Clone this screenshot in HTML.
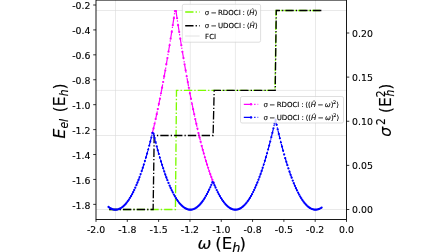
<!DOCTYPE html>
<html lang="en"><head><meta charset="utf-8"><title>Energy and variance vs omega</title>
<style>html,body{margin:0;padding:0;background:#fff;overflow:hidden}svg{display:block}</style></head>
<body>
<svg width="448" height="252" viewBox="0 0 448 252">
<rect width="448" height="252" fill="#fff"/>
<defs><clipPath id="ax"><rect x="96.0" y="0.1" width="250.5" height="219.4"/></clipPath></defs>
<g stroke="#dadada" stroke-width="0.6" fill="none">
<path d="M96.0,209.5 H346.5"/>
<path d="M96.0,135.5 H346.5"/>
<path d="M96.0,90.4 H346.5"/>
<path d="M96.0,10.5 H346.5"/>
<path d="M115.5,0.1 V219.5"/>
<path d="M190.3,0.1 V219.5"/>
<path d="M235.4,0.1 V219.5"/>
<path d="M315.5,0.1 V219.5"/>
</g>
<g fill="none" stroke-width="1.35" stroke-dasharray="8.32 2.08 1.30 2.08" clip-path="url(#ax)">
<path stroke="#7cfc00" d="M109.03,209.50 L110.10,209.50 L111.17,209.50 L112.24,209.50 L113.31,209.50 L114.38,209.50 L115.45,209.50 L116.52,209.50 L117.59,209.50 L118.66,209.50 L119.73,209.50 L120.81,209.50 L121.88,209.50 L122.95,209.50 L124.02,209.50 L125.09,209.50 L126.16,209.50 L127.23,209.50 L128.30,209.50 L129.37,209.50 L130.44,209.50 L131.51,209.50 L132.59,209.50 L133.66,209.50 L134.73,209.50 L135.80,209.50 L136.87,209.50 L137.94,209.50 L139.01,209.50 L140.08,209.50 L141.15,209.50 L142.22,209.50 L143.29,209.50 L144.37,209.50 L145.44,209.50 L146.51,209.50 L147.58,209.50 L148.65,209.50 L149.72,209.50 L150.79,209.50 L151.86,209.50 L152.93,209.50 L154.00,209.50 L155.07,209.50 L156.15,209.50 L157.22,209.50 L158.29,209.50 L159.36,209.50 L160.43,209.50 L161.50,209.50 L162.57,209.50 L163.64,209.50 L164.71,209.50 L165.78,209.50 L166.85,209.50 L167.93,209.50 L169.00,209.50 L170.07,209.50 L171.14,209.50 L172.21,209.50 L173.28,209.50 L174.35,209.50 L175.42,209.50 L176.49,90.40 L177.56,90.40 L178.63,90.40 L179.71,90.40 L180.78,90.40 L181.85,90.40 L182.92,90.40 L183.99,90.40 L185.06,90.40 L186.13,90.40 L187.20,90.40 L188.27,90.40 L189.34,90.40 L190.41,90.40 L191.49,90.40 L192.56,90.40 L193.63,90.40 L194.70,90.40 L195.77,90.40 L196.84,90.40 L197.91,90.40 L198.98,90.40 L200.05,90.40 L201.12,90.40 L202.19,90.40 L203.27,90.40 L204.34,90.40 L205.41,90.40 L206.48,90.40 L207.55,90.40 L208.62,90.40 L209.69,90.40 L210.76,90.40 L211.83,90.40 L212.90,90.40 L213.98,90.40 L215.05,90.40 L216.12,90.40 L217.19,90.40 L218.26,90.40 L219.33,90.40 L220.40,90.40 L221.47,90.40 L222.54,90.40 L223.61,90.40 L224.68,90.40 L225.76,90.40 L226.83,90.40 L227.90,90.40 L228.97,90.40 L230.04,90.40 L231.11,90.40 L232.18,90.40 L233.25,90.40 L234.32,90.40 L235.39,90.40 L236.46,90.40 L237.54,90.40 L238.61,90.40 L239.68,90.40 L240.75,90.40 L241.82,90.40 L242.89,90.40 L243.96,90.40 L245.03,90.40 L246.10,90.40 L247.17,90.40 L248.24,90.40 L249.32,90.40 L250.39,90.40 L251.46,90.40 L252.53,90.40 L253.60,90.40 L254.67,90.40 L255.74,90.40 L256.81,90.40 L257.88,90.40 L258.95,90.40 L260.02,90.40 L261.10,90.40 L262.17,90.40 L263.24,90.40 L264.31,90.40 L265.38,90.40 L266.45,90.40 L267.52,90.40 L268.59,90.40 L269.66,90.40 L270.73,90.40 L271.80,90.40 L272.88,90.40 L273.95,90.40 L275.02,90.40 L276.09,10.50 L277.16,10.50 L278.23,10.50 L279.30,10.50 L280.37,10.50 L281.44,10.50 L282.51,10.50 L283.58,10.50 L284.66,10.50 L285.73,10.50 L286.80,10.50 L287.87,10.50 L288.94,10.50 L290.01,10.50 L291.08,10.50 L292.15,10.50 L293.22,10.50 L294.29,10.50 L295.36,10.50 L296.44,10.50 L297.51,10.50 L298.58,10.50 L299.65,10.50 L300.72,10.50 L301.79,10.50 L302.86,10.50 L303.93,10.50 L305.00,10.50 L306.07,10.50 L307.15,10.50 L308.22,10.50 L309.29,10.50 L310.36,10.50 L311.43,10.50 L312.50,10.50 L313.57,10.50 L314.64,10.50 L315.71,10.50 L316.78,10.50 L317.85,10.50 L318.93,10.50 L320.00,10.50 L321.07,10.50 L322.14,10.50"/>
<path stroke="#000" d="M109.23,209.50 L110.30,209.50 L111.37,209.50 L112.44,209.50 L113.51,209.50 L114.58,209.50 L115.65,209.50 L116.72,209.50 L117.79,209.50 L118.86,209.50 L119.93,209.50 L121.01,209.50 L122.08,209.50 L123.15,209.50 L124.22,209.50 L125.29,209.50 L126.36,209.50 L127.43,209.50 L128.50,209.50 L129.57,209.50 L130.64,209.50 L131.71,209.50 L132.79,209.50 L133.86,209.50 L134.93,209.50 L136.00,209.50 L137.07,209.50 L138.14,209.50 L139.21,209.50 L140.28,209.50 L141.35,209.50 L142.42,209.50 L143.49,209.50 L144.57,209.50 L145.64,209.50 L146.71,209.50 L147.78,209.50 L148.85,209.50 L149.92,209.50 L150.99,209.50 L152.06,209.50 L153.13,209.50 L154.20,135.50 L155.27,135.50 L156.35,135.50 L157.42,135.50 L158.49,135.50 L159.56,135.50 L160.63,135.50 L161.70,135.50 L162.77,135.50 L163.84,135.50 L164.91,135.50 L165.98,135.50 L167.05,135.50 L168.13,135.50 L169.20,135.50 L170.27,135.50 L171.34,135.50 L172.41,135.50 L173.48,135.50 L174.55,135.50 L175.62,135.50 L176.69,135.50 L177.76,135.50 L178.83,135.50 L179.91,135.50 L180.98,135.50 L182.05,135.50 L183.12,135.50 L184.19,135.50 L185.26,135.50 L186.33,135.50 L187.40,135.50 L188.47,135.50 L189.54,135.50 L190.61,135.50 L191.69,135.50 L192.76,135.50 L193.83,135.50 L194.90,135.50 L195.97,135.50 L197.04,135.50 L198.11,135.50 L199.18,135.50 L200.25,135.50 L201.32,135.50 L202.39,135.50 L203.47,135.50 L204.54,135.50 L205.61,135.50 L206.68,135.50 L207.75,135.50 L208.82,135.50 L209.89,135.50 L210.96,135.50 L212.03,135.50 L213.10,135.50 L214.18,90.40 L215.25,90.40 L216.32,90.40 L217.39,90.40 L218.46,90.40 L219.53,90.40 L220.60,90.40 L221.67,90.40 L222.74,90.40 L223.81,90.40 L224.88,90.40 L225.96,90.40 L227.03,90.40 L228.10,90.40 L229.17,90.40 L230.24,90.40 L231.31,90.40 L232.38,90.40 L233.45,90.40 L234.52,90.40 L235.59,90.40 L236.66,90.40 L237.74,90.40 L238.81,90.40 L239.88,90.40 L240.95,90.40 L242.02,90.40 L243.09,90.40 L244.16,90.40 L245.23,90.40 L246.30,90.40 L247.37,90.40 L248.44,90.40 L249.52,90.40 L250.59,90.40 L251.66,90.40 L252.73,90.40 L253.80,90.40 L254.87,90.40 L255.94,90.40 L257.01,90.40 L258.08,90.40 L259.15,90.40 L260.22,90.40 L261.30,90.40 L262.37,90.40 L263.44,90.40 L264.51,90.40 L265.58,90.40 L266.65,90.40 L267.72,90.40 L268.79,90.40 L269.86,90.40 L270.93,90.40 L272.00,90.40 L273.08,90.40 L274.15,90.40 L275.22,90.40 L276.29,10.50 L277.36,10.50 L278.43,10.50 L279.50,10.50 L280.57,10.50 L281.64,10.50 L282.71,10.50 L283.78,10.50 L284.86,10.50 L285.93,10.50 L287.00,10.50 L288.07,10.50 L289.14,10.50 L290.21,10.50 L291.28,10.50 L292.35,10.50 L293.42,10.50 L294.49,10.50 L295.56,10.50 L296.64,10.50 L297.71,10.50 L298.78,10.50 L299.85,10.50 L300.92,10.50 L301.99,10.50 L303.06,10.50 L304.13,10.50 L305.20,10.50 L306.27,10.50 L307.35,10.50 L308.42,10.50 L309.49,10.50 L310.56,10.50 L311.63,10.50 L312.70,10.50 L313.77,10.50 L314.84,10.50 L315.91,10.50 L316.98,10.50 L318.05,10.50 L319.13,10.50 L320.20,10.50 L321.27,10.50 L322.34,10.50"/>
</g>
<rect x="96.0" y="0.1" width="250.5" height="219.4" fill="none" stroke="#000" stroke-width="0.9"/>
<g stroke="#000" stroke-width="0.8">
<path d="M96.0,5.00 h-2.8"/>
<path d="M96.0,29.92 h-2.8"/>
<path d="M96.0,54.84 h-2.8"/>
<path d="M96.0,79.76 h-2.8"/>
<path d="M96.0,104.68 h-2.8"/>
<path d="M96.0,129.60 h-2.8"/>
<path d="M96.0,154.52 h-2.8"/>
<path d="M96.0,179.44 h-2.8"/>
<path d="M96.0,204.36 h-2.8"/>
<path d="M96.00,219.5 v2.4"/>
<path d="M127.31,219.5 v2.4"/>
<path d="M158.62,219.5 v2.4"/>
<path d="M189.94,219.5 v2.4"/>
<path d="M221.25,219.5 v2.4"/>
<path d="M252.56,219.5 v2.4"/>
<path d="M283.88,219.5 v2.4"/>
<path d="M315.19,219.5 v2.4"/>
<path d="M346.50,219.5 v2.4"/>
<path d="M346.5,209.50 h2.8"/>
<path d="M346.5,165.38 h2.8"/>
<path d="M346.5,121.25 h2.8"/>
<path d="M346.5,77.12 h2.8"/>
<path d="M346.5,33.00 h2.8"/>
</g>
<g font-family="'DejaVu Sans','Liberation Sans',sans-serif" fill="#000" stroke="#000" stroke-width="0.12">
<text transform="translate(90.40,9.20) scale(1.1,1)" font-size="8.5" text-anchor="end">-0.2</text>
<text transform="translate(90.40,34.12) scale(1.1,1)" font-size="8.5" text-anchor="end">-0.4</text>
<text transform="translate(90.40,59.04) scale(1.1,1)" font-size="8.5" text-anchor="end">-0.6</text>
<text transform="translate(90.40,83.96) scale(1.1,1)" font-size="8.5" text-anchor="end">-0.8</text>
<text transform="translate(90.40,108.88) scale(1.1,1)" font-size="8.5" text-anchor="end">-1.0</text>
<text transform="translate(90.40,133.80) scale(1.1,1)" font-size="8.5" text-anchor="end">-1.2</text>
<text transform="translate(90.40,158.72) scale(1.1,1)" font-size="8.5" text-anchor="end">-1.4</text>
<text transform="translate(90.40,183.64) scale(1.1,1)" font-size="8.5" text-anchor="end">-1.6</text>
<text transform="translate(90.40,208.56) scale(1.1,1)" font-size="8.5" text-anchor="end">-1.8</text>
<text transform="translate(96.00,232.60) scale(1.1,1)" font-size="8.5" text-anchor="middle">-2.0</text>
<text transform="translate(127.31,232.60) scale(1.1,1)" font-size="8.5" text-anchor="middle">-1.8</text>
<text transform="translate(158.62,232.60) scale(1.1,1)" font-size="8.5" text-anchor="middle">-1.5</text>
<text transform="translate(189.94,232.60) scale(1.1,1)" font-size="8.5" text-anchor="middle">-1.2</text>
<text transform="translate(221.25,232.60) scale(1.1,1)" font-size="8.5" text-anchor="middle">-1.0</text>
<text transform="translate(252.56,232.60) scale(1.1,1)" font-size="8.5" text-anchor="middle">-0.8</text>
<text transform="translate(283.88,232.60) scale(1.1,1)" font-size="8.5" text-anchor="middle">-0.5</text>
<text transform="translate(315.19,232.60) scale(1.1,1)" font-size="8.5" text-anchor="middle">-0.2</text>
<text transform="translate(346.50,232.60) scale(1.1,1)" font-size="8.5" text-anchor="middle">0.0</text>
<text transform="translate(352.10,213.25) scale(1.1,1)" font-size="8.5">0.00</text>
<text transform="translate(352.10,169.13) scale(1.1,1)" font-size="8.5">0.05</text>
<text transform="translate(352.10,125.00) scale(1.1,1)" font-size="8.5">0.10</text>
<text transform="translate(352.10,80.88) scale(1.1,1)" font-size="8.5">0.15</text>
<text transform="translate(352.10,36.75) scale(1.1,1)" font-size="8.5">0.20</text>
</g>
<rect x="182.3" y="4.3" width="78.30" height="37.90" rx="1.6" fill="#fff" fill-opacity="0.8" stroke="#ccc" stroke-opacity="0.8" stroke-width="0.8"/>
<g fill="none" stroke-width="1.3">
<path stroke="#7cfc00" stroke-dasharray="8.32 2.08 1.30 2.08" d="M185.2,12 H199.6"/>
<path stroke="#000" stroke-dasharray="8.32 2.08 1.30 2.08" d="M185.2,25.75 H199.6"/>
<path stroke="#dadada" stroke-width="0.8" d="M185.2,36.0 H199.6"/>
</g>
<g font-family="'DejaVu Sans','Liberation Sans',sans-serif" fill="#000" stroke="#000" stroke-width="0.12">
<text transform="translate(204.80,14.60) scale(1.005,1)" font-size="7.0">σ<tspan dx="1.40">−</tspan><tspan dx="1.40">RDOCI</tspan><tspan dx="1.75">:</tspan><tspan dx="1.75">⟨<tspan font-style="oblique">Ĥ</tspan>⟩</tspan></text>
<text transform="translate(204.80,28.30) scale(1.005,1)" font-size="7.0">σ<tspan dx="1.40">−</tspan><tspan dx="1.40">UDOCI</tspan><tspan dx="1.75">:</tspan><tspan dx="1.75">⟨<tspan font-style="oblique">Ĥ</tspan>⟩</tspan></text>
<text transform="translate(205.10,38.50) scale(1.005,1)" font-size="7.0">FCI</text>
</g>
<g clip-path="url(#ax)">
<path fill="none" stroke="#ff00ff" stroke-width="1.2" stroke-dasharray="8.32 2.08 1.30 2.08" d="M152.43,132.97 L153.50,128.45 L154.57,123.81 L155.65,119.04 L156.72,114.14 L157.79,109.10 L158.86,103.94 L159.93,98.66 L161.00,93.24 L162.07,87.69 L163.14,82.02 L164.21,76.21 L165.28,70.28 L166.35,64.21 L167.43,58.02 L168.50,51.70 L169.57,45.25 L170.64,38.67 L171.71,31.96 L172.78,25.13 L173.85,18.16 L174.92,11.07 L175.99,11.17 L177.06,18.26 L178.13,25.22 L179.21,32.06 L180.28,38.76 L181.35,45.34 L182.42,51.79 L183.49,58.11 L184.56,64.30 L185.63,70.36 L186.70,76.29 L187.77,82.10 L188.84,87.77 L189.91,93.31 L190.99,98.73 L192.06,104.02 L193.13,109.18 L194.20,114.20 L195.27,119.10 L196.34,123.87 L197.41,128.52 L198.48,133.03 L199.55,137.41 L200.62,141.67 L201.69,145.79 L202.77,149.79 L203.84,153.66 L204.91,157.40 L205.98,161.00 L207.05,164.49 L208.12,167.84 L209.19,171.06 L210.26,174.15 L211.33,177.12 L212.40,179.95 L213.48,182.66"/>
<g fill="#ff00ff"><circle cx="152.43" cy="132.97" r="1.1"/><circle cx="153.50" cy="128.45" r="1.1"/><circle cx="154.57" cy="123.81" r="1.1"/><circle cx="155.65" cy="119.04" r="1.1"/><circle cx="156.72" cy="114.14" r="1.1"/><circle cx="157.79" cy="109.10" r="1.1"/><circle cx="158.86" cy="103.94" r="1.1"/><circle cx="159.93" cy="98.66" r="1.1"/><circle cx="161.00" cy="93.24" r="1.1"/><circle cx="162.07" cy="87.69" r="1.1"/><circle cx="163.14" cy="82.02" r="1.1"/><circle cx="164.21" cy="76.21" r="1.1"/><circle cx="165.28" cy="70.28" r="1.1"/><circle cx="166.35" cy="64.21" r="1.1"/><circle cx="167.43" cy="58.02" r="1.1"/><circle cx="168.50" cy="51.70" r="1.1"/><circle cx="169.57" cy="45.25" r="1.1"/><circle cx="170.64" cy="38.67" r="1.1"/><circle cx="171.71" cy="31.96" r="1.1"/><circle cx="172.78" cy="25.13" r="1.1"/><circle cx="173.85" cy="18.16" r="1.1"/><circle cx="174.92" cy="11.07" r="1.1"/><circle cx="175.99" cy="11.17" r="1.1"/><circle cx="177.06" cy="18.26" r="1.1"/><circle cx="178.13" cy="25.22" r="1.1"/><circle cx="179.21" cy="32.06" r="1.1"/><circle cx="180.28" cy="38.76" r="1.1"/><circle cx="181.35" cy="45.34" r="1.1"/><circle cx="182.42" cy="51.79" r="1.1"/><circle cx="183.49" cy="58.11" r="1.1"/><circle cx="184.56" cy="64.30" r="1.1"/><circle cx="185.63" cy="70.36" r="1.1"/><circle cx="186.70" cy="76.29" r="1.1"/><circle cx="187.77" cy="82.10" r="1.1"/><circle cx="188.84" cy="87.77" r="1.1"/><circle cx="189.91" cy="93.31" r="1.1"/><circle cx="190.99" cy="98.73" r="1.1"/><circle cx="192.06" cy="104.02" r="1.1"/><circle cx="193.13" cy="109.18" r="1.1"/><circle cx="194.20" cy="114.20" r="1.1"/><circle cx="195.27" cy="119.10" r="1.1"/><circle cx="196.34" cy="123.87" r="1.1"/><circle cx="197.41" cy="128.52" r="1.1"/><circle cx="198.48" cy="133.03" r="1.1"/><circle cx="199.55" cy="137.41" r="1.1"/><circle cx="200.62" cy="141.67" r="1.1"/><circle cx="201.69" cy="145.79" r="1.1"/><circle cx="202.77" cy="149.79" r="1.1"/><circle cx="203.84" cy="153.66" r="1.1"/><circle cx="204.91" cy="157.40" r="1.1"/><circle cx="205.98" cy="161.00" r="1.1"/><circle cx="207.05" cy="164.49" r="1.1"/><circle cx="208.12" cy="167.84" r="1.1"/><circle cx="209.19" cy="171.06" r="1.1"/><circle cx="210.26" cy="174.15" r="1.1"/><circle cx="211.33" cy="177.12" r="1.1"/><circle cx="212.40" cy="179.95" r="1.1"/><circle cx="213.48" cy="182.66" r="1.1"/></g>
<path fill="none" stroke="#0000ff" stroke-width="1.2" stroke-dasharray="8.32 2.08 1.30 2.08" d="M108.53,206.96 L109.60,207.74 L110.67,208.39 L111.74,208.90 L112.81,209.29 L113.88,209.55 L114.95,209.68 L116.02,209.68 L117.09,209.56 L118.16,209.30 L119.23,208.92 L120.31,208.40 L121.38,207.76 L122.45,206.99 L123.52,206.08 L124.59,205.05 L125.66,203.89 L126.73,202.60 L127.80,201.19 L128.87,199.64 L129.94,197.96 L131.01,196.16 L132.09,194.23 L133.16,192.16 L134.23,189.97 L135.30,187.65 L136.37,185.20 L137.44,182.62 L138.51,179.91 L139.58,177.08 L140.65,174.11 L141.72,171.02 L142.79,167.79 L143.87,164.44 L144.94,160.96 L146.01,157.34 L147.08,153.60 L148.15,149.73 L149.22,145.74 L150.29,141.61 L151.36,137.35 L152.43,132.97 L153.50,133.53 L154.57,137.90 L155.65,142.14 L156.72,146.25 L157.79,150.23 L158.86,154.09 L159.93,157.81 L161.00,161.41 L162.07,164.87 L163.14,168.21 L164.21,171.42 L165.28,174.49 L166.35,177.44 L167.43,180.27 L168.50,182.96 L169.57,185.52 L170.64,187.95 L171.71,190.26 L172.78,192.43 L173.85,194.48 L174.92,196.40 L175.99,198.19 L177.06,199.84 L178.13,201.37 L179.21,202.78 L180.28,204.05 L181.35,205.19 L182.42,206.21 L183.49,207.09 L184.56,207.85 L185.63,208.47 L186.70,208.97 L187.77,209.34 L188.84,209.58 L189.91,209.69 L190.99,209.67 L192.06,209.53 L193.13,209.25 L194.20,208.85 L195.27,208.31 L196.34,207.65 L197.41,206.86 L198.48,205.93 L199.55,204.88 L200.62,203.70 L201.69,202.40 L202.77,200.96 L203.84,199.39 L204.91,197.70 L205.98,195.87 L207.05,193.92 L208.12,191.84 L209.19,189.62 L210.26,187.28 L211.33,184.81 L212.40,182.21 L213.48,182.66 L214.55,185.24 L215.62,187.68 L216.69,190.00 L217.76,192.19 L218.83,194.25 L219.90,196.19 L220.97,197.99 L222.04,199.66 L223.11,201.21 L224.18,202.62 L225.26,203.91 L226.33,205.07 L227.40,206.10 L228.47,207.00 L229.54,207.77 L230.61,208.41 L231.68,208.92 L232.75,209.31 L233.82,209.56 L234.89,209.69 L235.96,209.68 L237.04,209.55 L238.11,209.29 L239.18,208.90 L240.25,208.38 L241.32,207.73 L242.39,206.95 L243.46,206.04 L244.53,205.01 L245.60,203.84 L246.67,202.55 L247.74,201.13 L248.82,199.58 L249.89,197.89 L250.96,196.08 L252.03,194.15 L253.10,192.08 L254.17,189.88 L255.24,187.55 L256.31,185.10 L257.38,182.52 L258.45,179.80 L259.52,176.96 L260.60,173.99 L261.67,170.89 L262.74,167.66 L263.81,164.30 L264.88,160.81 L265.95,157.20 L267.02,153.45 L268.09,149.58 L269.16,145.57 L270.23,141.44 L271.30,137.18 L272.38,132.79 L273.45,128.27 L274.52,123.62 L275.59,120.09 L276.66,124.83 L277.73,129.45 L278.80,133.94 L279.87,138.29 L280.94,142.52 L282.01,146.62 L283.08,150.59 L284.16,154.43 L285.23,158.14 L286.30,161.73 L287.37,165.18 L288.44,168.51 L289.51,171.70 L290.58,174.77 L291.65,177.71 L292.72,180.52 L293.79,183.20 L294.86,185.75 L295.94,188.17 L297.01,190.46 L298.08,192.62 L299.15,194.66 L300.22,196.56 L301.29,198.34 L302.36,199.99 L303.43,201.51 L304.50,202.90 L305.57,204.16 L306.65,205.29 L307.72,206.29 L308.79,207.16 L309.86,207.91 L310.93,208.52 L312.00,209.01 L313.07,209.37 L314.14,209.60 L315.21,209.70 L316.28,209.67 L317.35,209.51 L318.43,209.22 L319.50,208.80 L320.57,208.26 L321.64,207.58"/>
<g fill="#0000ff"><circle cx="108.53" cy="206.96" r="1.1"/><circle cx="109.60" cy="207.74" r="1.1"/><circle cx="110.67" cy="208.39" r="1.1"/><circle cx="111.74" cy="208.90" r="1.1"/><circle cx="112.81" cy="209.29" r="1.1"/><circle cx="113.88" cy="209.55" r="1.1"/><circle cx="114.95" cy="209.68" r="1.1"/><circle cx="116.02" cy="209.68" r="1.1"/><circle cx="117.09" cy="209.56" r="1.1"/><circle cx="118.16" cy="209.30" r="1.1"/><circle cx="119.23" cy="208.92" r="1.1"/><circle cx="120.31" cy="208.40" r="1.1"/><circle cx="121.38" cy="207.76" r="1.1"/><circle cx="122.45" cy="206.99" r="1.1"/><circle cx="123.52" cy="206.08" r="1.1"/><circle cx="124.59" cy="205.05" r="1.1"/><circle cx="125.66" cy="203.89" r="1.1"/><circle cx="126.73" cy="202.60" r="1.1"/><circle cx="127.80" cy="201.19" r="1.1"/><circle cx="128.87" cy="199.64" r="1.1"/><circle cx="129.94" cy="197.96" r="1.1"/><circle cx="131.01" cy="196.16" r="1.1"/><circle cx="132.09" cy="194.23" r="1.1"/><circle cx="133.16" cy="192.16" r="1.1"/><circle cx="134.23" cy="189.97" r="1.1"/><circle cx="135.30" cy="187.65" r="1.1"/><circle cx="136.37" cy="185.20" r="1.1"/><circle cx="137.44" cy="182.62" r="1.1"/><circle cx="138.51" cy="179.91" r="1.1"/><circle cx="139.58" cy="177.08" r="1.1"/><circle cx="140.65" cy="174.11" r="1.1"/><circle cx="141.72" cy="171.02" r="1.1"/><circle cx="142.79" cy="167.79" r="1.1"/><circle cx="143.87" cy="164.44" r="1.1"/><circle cx="144.94" cy="160.96" r="1.1"/><circle cx="146.01" cy="157.34" r="1.1"/><circle cx="147.08" cy="153.60" r="1.1"/><circle cx="148.15" cy="149.73" r="1.1"/><circle cx="149.22" cy="145.74" r="1.1"/><circle cx="150.29" cy="141.61" r="1.1"/><circle cx="151.36" cy="137.35" r="1.1"/><circle cx="152.43" cy="132.97" r="1.1"/><circle cx="153.50" cy="133.53" r="1.1"/><circle cx="154.57" cy="137.90" r="1.1"/><circle cx="155.65" cy="142.14" r="1.1"/><circle cx="156.72" cy="146.25" r="1.1"/><circle cx="157.79" cy="150.23" r="1.1"/><circle cx="158.86" cy="154.09" r="1.1"/><circle cx="159.93" cy="157.81" r="1.1"/><circle cx="161.00" cy="161.41" r="1.1"/><circle cx="162.07" cy="164.87" r="1.1"/><circle cx="163.14" cy="168.21" r="1.1"/><circle cx="164.21" cy="171.42" r="1.1"/><circle cx="165.28" cy="174.49" r="1.1"/><circle cx="166.35" cy="177.44" r="1.1"/><circle cx="167.43" cy="180.27" r="1.1"/><circle cx="168.50" cy="182.96" r="1.1"/><circle cx="169.57" cy="185.52" r="1.1"/><circle cx="170.64" cy="187.95" r="1.1"/><circle cx="171.71" cy="190.26" r="1.1"/><circle cx="172.78" cy="192.43" r="1.1"/><circle cx="173.85" cy="194.48" r="1.1"/><circle cx="174.92" cy="196.40" r="1.1"/><circle cx="175.99" cy="198.19" r="1.1"/><circle cx="177.06" cy="199.84" r="1.1"/><circle cx="178.13" cy="201.37" r="1.1"/><circle cx="179.21" cy="202.78" r="1.1"/><circle cx="180.28" cy="204.05" r="1.1"/><circle cx="181.35" cy="205.19" r="1.1"/><circle cx="182.42" cy="206.21" r="1.1"/><circle cx="183.49" cy="207.09" r="1.1"/><circle cx="184.56" cy="207.85" r="1.1"/><circle cx="185.63" cy="208.47" r="1.1"/><circle cx="186.70" cy="208.97" r="1.1"/><circle cx="187.77" cy="209.34" r="1.1"/><circle cx="188.84" cy="209.58" r="1.1"/><circle cx="189.91" cy="209.69" r="1.1"/><circle cx="190.99" cy="209.67" r="1.1"/><circle cx="192.06" cy="209.53" r="1.1"/><circle cx="193.13" cy="209.25" r="1.1"/><circle cx="194.20" cy="208.85" r="1.1"/><circle cx="195.27" cy="208.31" r="1.1"/><circle cx="196.34" cy="207.65" r="1.1"/><circle cx="197.41" cy="206.86" r="1.1"/><circle cx="198.48" cy="205.93" r="1.1"/><circle cx="199.55" cy="204.88" r="1.1"/><circle cx="200.62" cy="203.70" r="1.1"/><circle cx="201.69" cy="202.40" r="1.1"/><circle cx="202.77" cy="200.96" r="1.1"/><circle cx="203.84" cy="199.39" r="1.1"/><circle cx="204.91" cy="197.70" r="1.1"/><circle cx="205.98" cy="195.87" r="1.1"/><circle cx="207.05" cy="193.92" r="1.1"/><circle cx="208.12" cy="191.84" r="1.1"/><circle cx="209.19" cy="189.62" r="1.1"/><circle cx="210.26" cy="187.28" r="1.1"/><circle cx="211.33" cy="184.81" r="1.1"/><circle cx="212.40" cy="182.21" r="1.1"/><circle cx="213.48" cy="182.66" r="1.1"/><circle cx="214.55" cy="185.24" r="1.1"/><circle cx="215.62" cy="187.68" r="1.1"/><circle cx="216.69" cy="190.00" r="1.1"/><circle cx="217.76" cy="192.19" r="1.1"/><circle cx="218.83" cy="194.25" r="1.1"/><circle cx="219.90" cy="196.19" r="1.1"/><circle cx="220.97" cy="197.99" r="1.1"/><circle cx="222.04" cy="199.66" r="1.1"/><circle cx="223.11" cy="201.21" r="1.1"/><circle cx="224.18" cy="202.62" r="1.1"/><circle cx="225.26" cy="203.91" r="1.1"/><circle cx="226.33" cy="205.07" r="1.1"/><circle cx="227.40" cy="206.10" r="1.1"/><circle cx="228.47" cy="207.00" r="1.1"/><circle cx="229.54" cy="207.77" r="1.1"/><circle cx="230.61" cy="208.41" r="1.1"/><circle cx="231.68" cy="208.92" r="1.1"/><circle cx="232.75" cy="209.31" r="1.1"/><circle cx="233.82" cy="209.56" r="1.1"/><circle cx="234.89" cy="209.69" r="1.1"/><circle cx="235.96" cy="209.68" r="1.1"/><circle cx="237.04" cy="209.55" r="1.1"/><circle cx="238.11" cy="209.29" r="1.1"/><circle cx="239.18" cy="208.90" r="1.1"/><circle cx="240.25" cy="208.38" r="1.1"/><circle cx="241.32" cy="207.73" r="1.1"/><circle cx="242.39" cy="206.95" r="1.1"/><circle cx="243.46" cy="206.04" r="1.1"/><circle cx="244.53" cy="205.01" r="1.1"/><circle cx="245.60" cy="203.84" r="1.1"/><circle cx="246.67" cy="202.55" r="1.1"/><circle cx="247.74" cy="201.13" r="1.1"/><circle cx="248.82" cy="199.58" r="1.1"/><circle cx="249.89" cy="197.89" r="1.1"/><circle cx="250.96" cy="196.08" r="1.1"/><circle cx="252.03" cy="194.15" r="1.1"/><circle cx="253.10" cy="192.08" r="1.1"/><circle cx="254.17" cy="189.88" r="1.1"/><circle cx="255.24" cy="187.55" r="1.1"/><circle cx="256.31" cy="185.10" r="1.1"/><circle cx="257.38" cy="182.52" r="1.1"/><circle cx="258.45" cy="179.80" r="1.1"/><circle cx="259.52" cy="176.96" r="1.1"/><circle cx="260.60" cy="173.99" r="1.1"/><circle cx="261.67" cy="170.89" r="1.1"/><circle cx="262.74" cy="167.66" r="1.1"/><circle cx="263.81" cy="164.30" r="1.1"/><circle cx="264.88" cy="160.81" r="1.1"/><circle cx="265.95" cy="157.20" r="1.1"/><circle cx="267.02" cy="153.45" r="1.1"/><circle cx="268.09" cy="149.58" r="1.1"/><circle cx="269.16" cy="145.57" r="1.1"/><circle cx="270.23" cy="141.44" r="1.1"/><circle cx="271.30" cy="137.18" r="1.1"/><circle cx="272.38" cy="132.79" r="1.1"/><circle cx="273.45" cy="128.27" r="1.1"/><circle cx="274.52" cy="123.62" r="1.1"/><circle cx="275.59" cy="120.09" r="1.1"/><circle cx="276.66" cy="124.83" r="1.1"/><circle cx="277.73" cy="129.45" r="1.1"/><circle cx="278.80" cy="133.94" r="1.1"/><circle cx="279.87" cy="138.29" r="1.1"/><circle cx="280.94" cy="142.52" r="1.1"/><circle cx="282.01" cy="146.62" r="1.1"/><circle cx="283.08" cy="150.59" r="1.1"/><circle cx="284.16" cy="154.43" r="1.1"/><circle cx="285.23" cy="158.14" r="1.1"/><circle cx="286.30" cy="161.73" r="1.1"/><circle cx="287.37" cy="165.18" r="1.1"/><circle cx="288.44" cy="168.51" r="1.1"/><circle cx="289.51" cy="171.70" r="1.1"/><circle cx="290.58" cy="174.77" r="1.1"/><circle cx="291.65" cy="177.71" r="1.1"/><circle cx="292.72" cy="180.52" r="1.1"/><circle cx="293.79" cy="183.20" r="1.1"/><circle cx="294.86" cy="185.75" r="1.1"/><circle cx="295.94" cy="188.17" r="1.1"/><circle cx="297.01" cy="190.46" r="1.1"/><circle cx="298.08" cy="192.62" r="1.1"/><circle cx="299.15" cy="194.66" r="1.1"/><circle cx="300.22" cy="196.56" r="1.1"/><circle cx="301.29" cy="198.34" r="1.1"/><circle cx="302.36" cy="199.99" r="1.1"/><circle cx="303.43" cy="201.51" r="1.1"/><circle cx="304.50" cy="202.90" r="1.1"/><circle cx="305.57" cy="204.16" r="1.1"/><circle cx="306.65" cy="205.29" r="1.1"/><circle cx="307.72" cy="206.29" r="1.1"/><circle cx="308.79" cy="207.16" r="1.1"/><circle cx="309.86" cy="207.91" r="1.1"/><circle cx="310.93" cy="208.52" r="1.1"/><circle cx="312.00" cy="209.01" r="1.1"/><circle cx="313.07" cy="209.37" r="1.1"/><circle cx="314.14" cy="209.60" r="1.1"/><circle cx="315.21" cy="209.70" r="1.1"/><circle cx="316.28" cy="209.67" r="1.1"/><circle cx="317.35" cy="209.51" r="1.1"/><circle cx="318.43" cy="209.22" r="1.1"/><circle cx="319.50" cy="208.80" r="1.1"/><circle cx="320.57" cy="208.26" r="1.1"/><circle cx="321.64" cy="207.58" r="1.1"/></g>
</g>
<rect x="240.5" y="96.5" width="103.00" height="26.50" rx="1.6" fill="#fff" fill-opacity="0.8" stroke="#ccc" stroke-opacity="0.8" stroke-width="0.8"/>
<path fill="none" stroke="#ff00ff" stroke-width="1.3" stroke-dasharray="8.32 2.08 1.30 2.08" d="M243.8,104.3 H258.2"/>
<circle cx="251.00" cy="104.3" r="1.2" fill="#ff00ff"/>
<path fill="none" stroke="#0000ff" stroke-width="1.3" stroke-dasharray="8.32 2.08 1.30 2.08" d="M243.8,117.4 H258.2"/>
<circle cx="251.00" cy="117.4" r="1.2" fill="#0000ff"/>
<g font-family="'DejaVu Sans','Liberation Sans',sans-serif" fill="#000" stroke="#000" stroke-width="0.12">
<text transform="translate(263.50,106.90) scale(1.005,1)" font-size="7.0">σ<tspan dx="1.40">−</tspan><tspan dx="1.40">RDOCI</tspan><tspan dx="1.75">:</tspan><tspan dx="1.75">⟨(<tspan font-style="oblique">Ĥ</tspan><tspan dx="1.40">−</tspan><tspan font-style="oblique" dx="1.40">ω</tspan>)<tspan font-size="4.90" dx="-0.4" dy="-2.52">2</tspan><tspan dy="2.52">⟩</tspan></tspan></text>
<text transform="translate(263.50,120.00) scale(1.005,1)" font-size="7.0">σ<tspan dx="1.40">−</tspan><tspan dx="1.40">UDOCI</tspan><tspan dx="1.75">:</tspan><tspan dx="1.75">⟨(<tspan font-style="oblique">Ĥ</tspan><tspan dx="1.40">−</tspan><tspan font-style="oblique" dx="1.40">ω</tspan>)<tspan font-size="4.90" dx="-0.4" dy="-2.52">2</tspan><tspan dy="2.52">⟩</tspan></tspan></text>
<text transform="translate(221.70,249.00) scale(1.07,1)" font-size="15.5" text-anchor="middle"><tspan font-style="oblique">ω</tspan><tspan dx="3.80">(E</tspan><tspan font-style="oblique" font-size="12.09" dy="3.25">h</tspan><tspan dx="-0.9" dy="-3.25">)</tspan></text>
<text transform="translate(65.20,110.90) scale(1.07,1) rotate(-90)" font-size="15.5" text-anchor="middle"><tspan font-style="oblique">E</tspan><tspan font-style="oblique" font-size="10.85" dy="2.48">el</tspan><tspan dx="1.8" dy="-2.48"> (E</tspan><tspan font-style="oblique" font-size="10.85" dy="2.48">h</tspan><tspan dy="-2.48">)</tspan></text>
<text transform="translate(391.40,110.20) scale(1.07,1) rotate(-90)" font-size="15.5" text-anchor="middle"><tspan font-style="oblique">σ</tspan><tspan font-size="10.85" dx="2" dy="-5.58">2</tspan><tspan dy="5.58"> (E</tspan><tspan font-size="10.85" dy="-6.20">2</tspan><tspan font-style="oblique" font-size="10.85" dy="8.68" dx="-6.20">h</tspan><tspan dy="-2.48">)</tspan></text>
</g>
</svg>
</body></html>
